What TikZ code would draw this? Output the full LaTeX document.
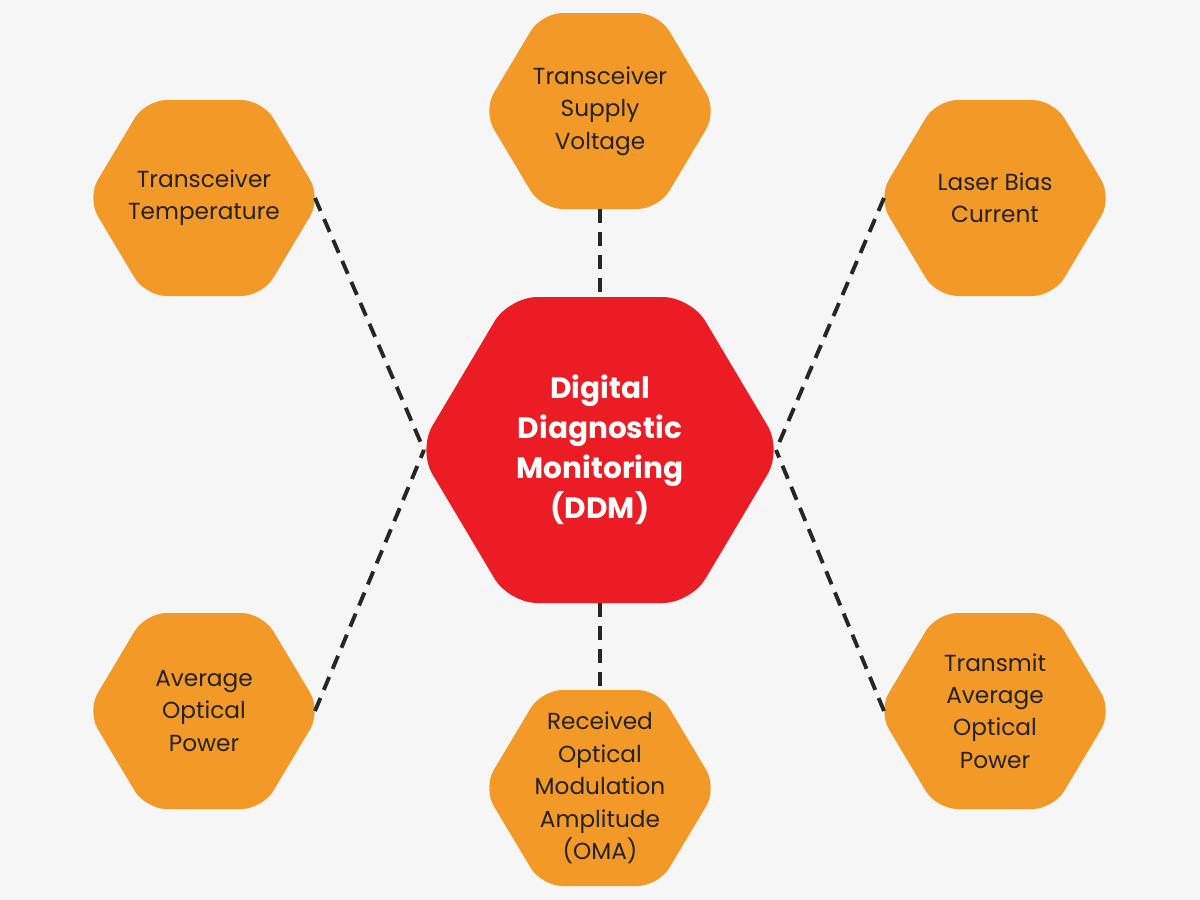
\documentclass[tikz,border=0pt]{standalone}
\usepackage{fontspec}
\setmainfont{Poppins}
\definecolor{hexorange}{RGB}{242,153,40}
\definecolor{hexred}{RGB}{236,28,36}
\definecolor{bggray}{RGB}{246,246,246}
\definecolor{txtdark}{RGB}{35,35,35}
% name, center, half width, half height, style
\newcommand\hexagon[5]{%
  \coordinate (#1) at #2;
  \fill[#5] ([shift={(-#3,0)}]#1) -- ([shift={(-#3/2,-#4)}]#1) -- ([shift={(#3/2,-#4)}]#1)
    -- ([shift={(#3,0)}]#1) -- ([shift={(#3/2,#4)}]#1) -- ([shift={(-#3/2,#4)}]#1) -- cycle;
  \coordinate (#1-w) at ([shift={(-#3+6,0)}]#1);
  \coordinate (#1-e) at ([shift={(#3-6,0)}]#1);
  \coordinate (#1-n) at ([shift={(0,-#4)}]#1);
  \coordinate (#1-s) at ([shift={(0,#4)}]#1);
}
\tikzset{
  smallhex/.style={fill=hexorange,rounded corners=6pt},
  bighex/.style={fill=hexred,rounded corners=8pt},
  hextext/.style={align=center,text=txtdark,font=\fontsize{6.6}{9.2}\selectfont},
  bigtext/.style={align=center,text=white,font=\bfseries\fontsize{8.4}{11.4}\selectfont},
  link/.style={line width=1.1pt,black!85,dash pattern=on 4pt off 2.5pt}
}
\begin{document}
\begin{tikzpicture}[x=0.01cm,y=-0.01cm]
  \fill[bggray] (0,0) rectangle (1200,900);
  % hexagons
  \hexagon{ddm}{(600,450)}{182}{153}{bighex}
  \hexagon{temp}{(204,198)}{117}{98}{smallhex}
  \hexagon{volt}{(600,111)}{117}{98}{smallhex}
  \hexagon{bias}{(995,198)}{117}{98}{smallhex}
  \hexagon{avg}{(204,711)}{117}{98}{smallhex}
  \hexagon{oma}{(600,788)}{117}{98}{smallhex}
  \hexagon{txp}{(995,711)}{117}{98}{smallhex}
  % connectors
  \draw[link] (temp-e) -- (ddm-w);
  \draw[link] (avg-e) -- (ddm-w);
  \draw[link] (bias-w) -- (ddm-e);
  \draw[link] (txp-w) -- (ddm-e);
  \draw[link] (volt-s) -- (ddm-n);
  \draw[link] (ddm-s) -- (oma-n);
  % texts
  \node[bigtext] (ddmtxt) at (ddm) {Digital\\Diagnostic\\Monitoring\\(DDM)};
  \node[hextext] (temptxt) at (temp) {Transceiver\\Temperature};
  \node[hextext] (volttxt) at (volt) {Transceiver\\Supply\\Voltage};
  \node[hextext] (biastxt) at (bias) {Laser Bias\\Current};
  \node[hextext] (avgtxt) at (avg) {Average\\Optical\\Power};
  \node[hextext] (omatxt) at (oma) {Received\\Optical\\Modulation\\Amplitude\\(OMA)};
  \node[hextext] (txptxt) at (txp) {Transmit\\Average\\Optical\\Power};
\end{tikzpicture}
\end{document}
